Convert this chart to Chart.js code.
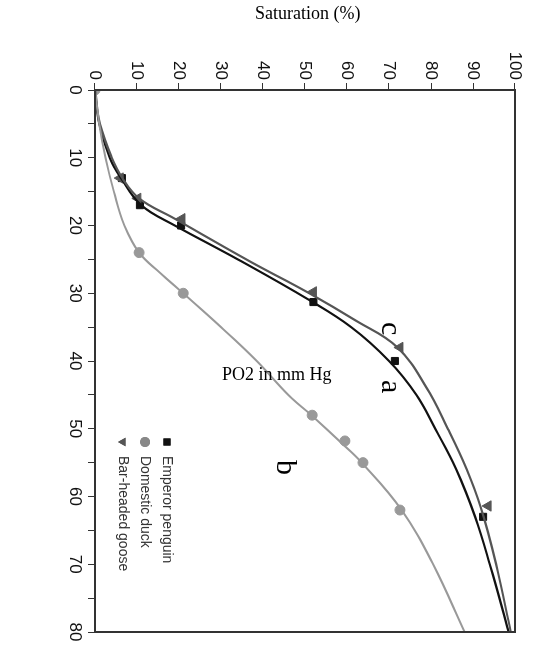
<!DOCTYPE html>
<html>
<head>
<meta charset="utf-8">
<script src="https://cdn.jsdelivr.net/npm/chart.js@4"></script>
<style>
  body { margin: 0; background: #fff; }
  #wrap { position: absolute; left: 536px; top: 0; width: 656px; height: 536px;
          transform-origin: 0 0; transform: rotate(90deg); }
  .title { position: absolute; font-family: "Liberation Serif", serif; font-size: 18px; color: #000; z-index: 2; }
</style>
</head>
<body>
<div id="wrap"><canvas id="c" width="656" height="536"></canvas></div>
<div class="title" style="left:255px; top:3px;">Saturation (%)</div>
<div class="title" style="left:222px; top:364px;">PO2 in mm Hg</div>
<script>
// curve samples: [PO2, saturation]
const curveA = [[0,0],[5,1],[10,3.5],[13,6.2],[17,11],[20,19],[25,34],[31,51],[35,61],[40,70],[45,76.5],[50,81],[56,86],[63,90.5],[70,94],[80,98.5]];
const curveC = [[0,0],[5,1.2],[10,4],[13,6.5],[16,10.5],[19,19],[25,36],[30,51],[34,62],[38,72],[44,79],[50,84],[56,88.5],[61.5,91.8],[70,95.5],[80,99]];
const curveB = [[0,0],[5,1],[10,2.5],[15,4.5],[20,7],[24,10.5],[27,15.5],[30,21],[35,30],[40,38.5],[45,46],[48,51.5],[52,58.5],[55,63.5],[62,73],[70,80.5],[80,88]];
const penguinPts = [[13,6.4],[17,10.7],[20,20.5],[31.3,52],[40,71.4],[63,92.4]];
const duckPts = [[0,0],[24,10.5],[30,21],[48,51.7],[51.8,59.5],[55,63.8],[62,72.6]];
const goosePts = [[13,6],[16,10.2],[19,20.7],[29.8,52],[38,72.6],[61.4,93.6]];
const satTicks = [0,10,20,30,40,50,60,70,80,90,100];
const legendNames = ['Emperor penguin','Domestic duck','Bar-headed goose'];
const curveLetters = [['c',322,146],['a',380,146],['b',460,251]];

const xy = arr => arr.map(p => ({x: p[0], y: p[1]}));
const line = (d, col, w) => ({ type: 'line', data: xy(d), borderColor: col, borderWidth: w, pointRadius: 0, tension: 0.4, fill: false });
const pts = (d, col, style, r, rot) => ({ type: 'scatter', data: xy(d), backgroundColor: col, borderColor: col, pointStyle: style, pointRadius: r, rotation: rot || 0 });

const frame = {
  id: 'frame',
  afterDraw(chart) {
    const ctx = chart.ctx, a = chart.chartArea;
    ctx.save();
    ctx.strokeStyle = '#333'; ctx.lineWidth = 2;
    ctx.strokeRect(a.left, a.top, a.right - a.left, a.bottom - a.top);
    // legend
    const marks = [['rect','#111'],['circle','#888'],['triangle','#555']];
    ctx.font = '14px "Liberation Sans", Arial, sans-serif';
    ctx.textBaseline = 'middle';
    legendNames.forEach((n, i) => {
      const y = 369 + i * 22;
      ctx.fillStyle = marks[i][1];
      Chart.helpers.drawPoint(ctx, { pointStyle: marks[i][0], radius: 5, rotation: i === 2 ? 180 : 0 }, 442, y);
      ctx.fill();
      ctx.fillStyle = '#333';
      ctx.fillText(n, 456, y);
    });
    ctx.font = '30px "Liberation Serif", serif';
    ctx.fillStyle = '#000';
    curveLetters.forEach(l => ctx.fillText(l[0], l[1], l[2]));
    ctx.restore();
  }
};

new Chart(document.getElementById('c'), {
  data: {
    datasets: [
      line(curveB, '#999', 2),
      line(curveC, '#555', 2.2),
      line(curveA, '#111', 2.2),
      pts(duckPts, '#999', 'circle', 5),
      pts(goosePts, '#555', 'triangle', 6, 180),
      pts(penguinPts, '#111', 'rect', 5)
    ]
  },
  options: {
    responsive: false,
    animation: false,
    layout: { padding: { top: 21, right: 24 } },
    plugins: { legend: { display: false }, tooltip: { enabled: false } },
    scales: {
      x: {
        type: 'linear', min: 0, max: 80,
        afterFit: s => { s.height = 95; },
        grid: { drawOnChartArea: false, tickLength: 7, color: '#333' },
        border: { color: '#333', width: 2 },
        ticks: { stepSize: 5, color: '#111', font: { size: 17, family: 'Liberation Sans' },
                 callback: v => v % 10 === 0 ? v : '' }
      },
      y: {
        type: 'linear', min: 0, max: 100,
        afterFit: s => { s.width = 90; },
        afterBuildTicks: s => { s.ticks = satTicks.map(v => ({ value: v })); },
        grid: { drawOnChartArea: false, tickLength: 7, color: '#333' },
        border: { color: '#333', width: 2 },
        ticks: { color: '#111', font: { size: 17, family: 'Liberation Sans' } }
      }
    }
  },
  plugins: [frame]
});
</script>
</body>
</html>
